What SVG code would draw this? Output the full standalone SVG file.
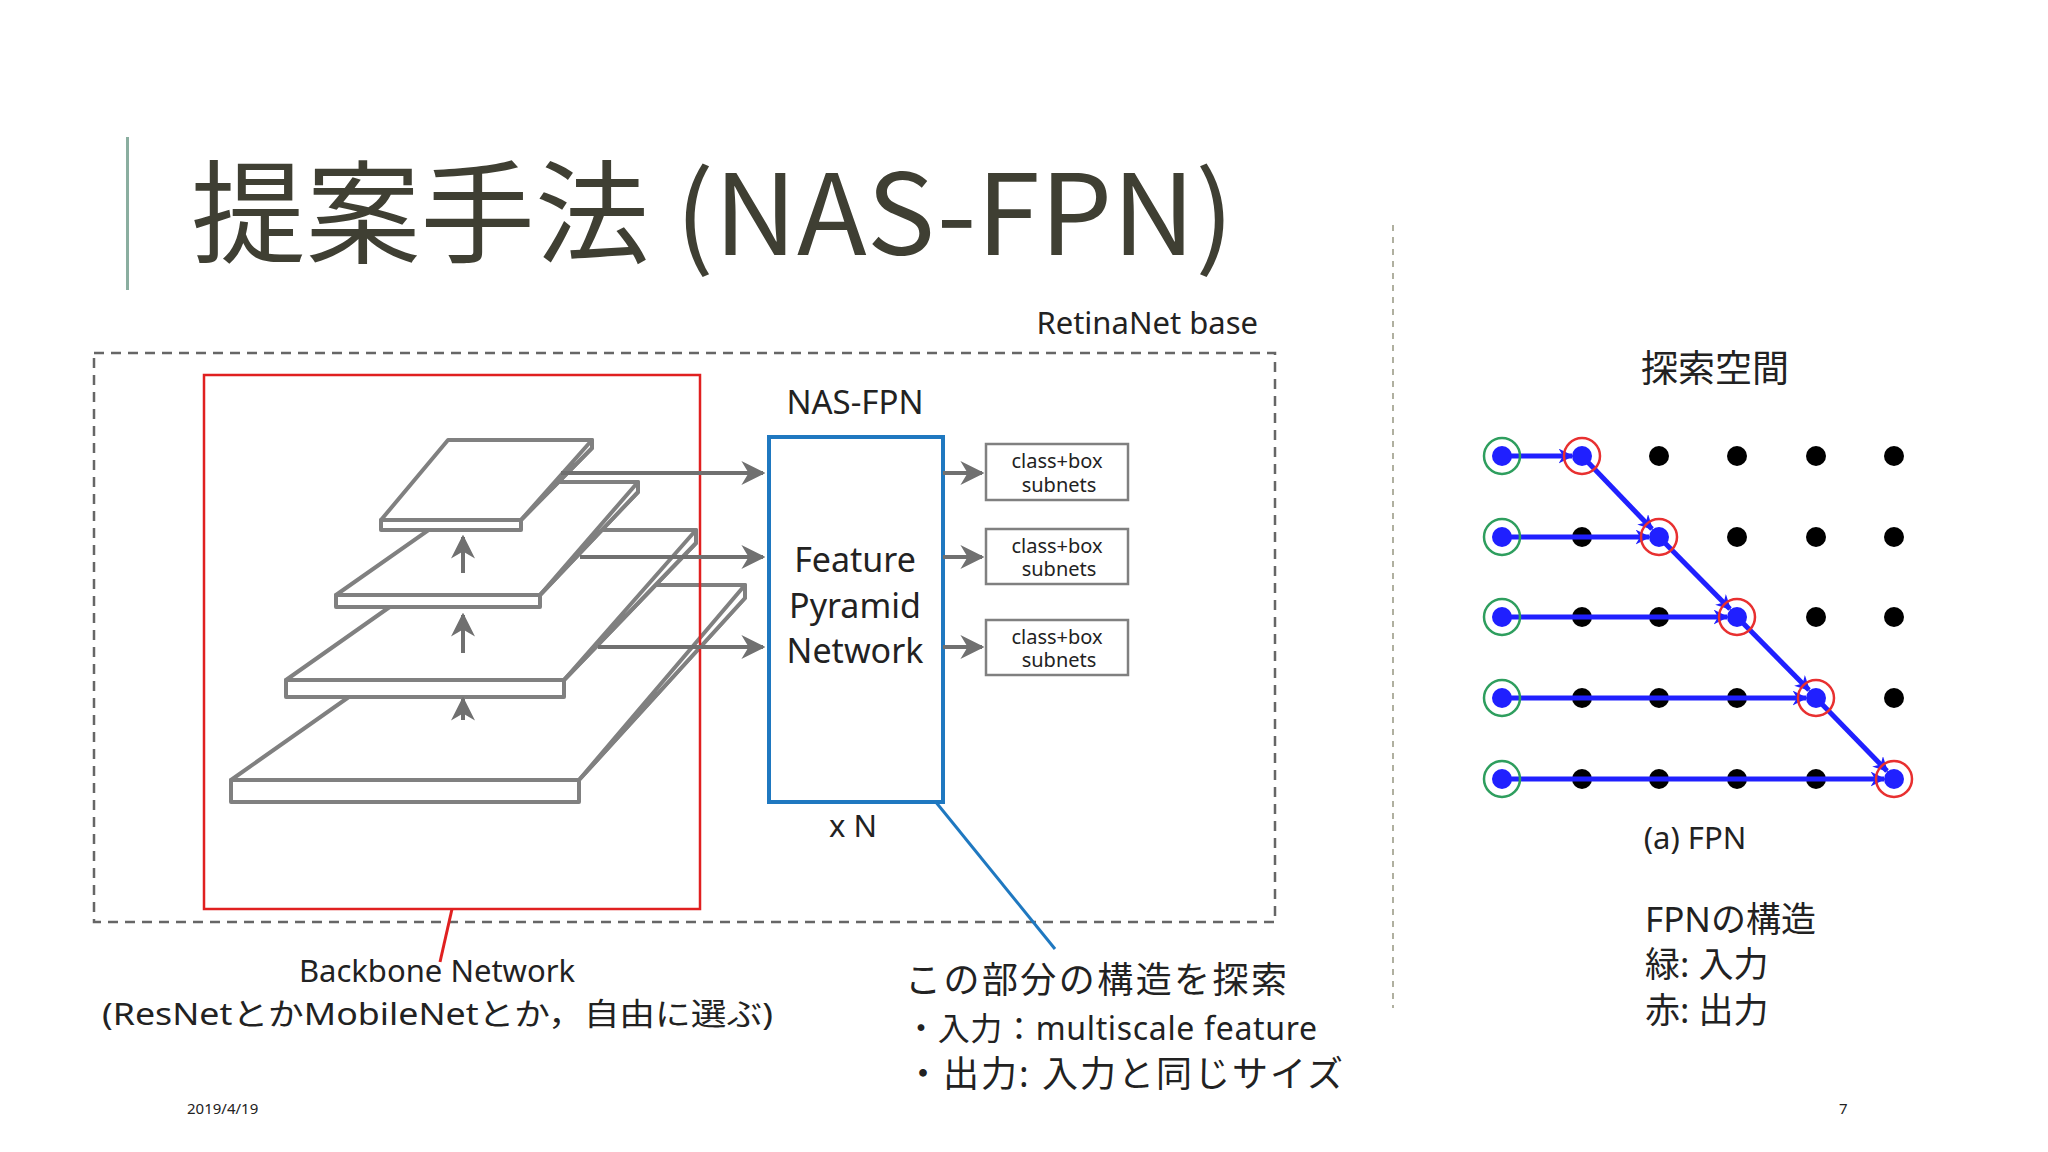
<svg xmlns="http://www.w3.org/2000/svg" width="2048" height="1152" viewBox="0 0 2048 1152">
<defs>
<style>
.t{font-family:"Noto Sans","Noto Sans CJK JP",sans-serif;fill:#222}
.plate{fill:#fff;stroke:#808080;stroke-width:4;stroke-linejoin:round}
.ga{stroke:#707070;stroke-width:4;fill:none}
.bl{stroke:#2020ff;stroke-width:5;fill:none}
.bk{fill:#000}
.bd{fill:#2020ff}
.gc{fill:none;stroke:#2e9e5e;stroke-width:2.5}
.rc{fill:none;stroke:#e83030;stroke-width:2.5}
</style>
<marker id="ag" viewBox="0 0 10 10" refX="9" refY="5" markerWidth="6" markerHeight="6" orient="auto"><path d="M0,0L10,5L0,10L3,5z" fill="#707070"/></marker>
<marker id="ab" viewBox="0 0 10 10" refX="9" refY="5" markerWidth="3" markerHeight="3" orient="auto"><path d="M0,0L10,5L0,10L3,5z" fill="#2020ff"/></marker>
</defs>
<rect width="2048" height="1152" fill="#fff"/>
<g id="title">
<rect x="126" y="137" width="3" height="153" fill="#8aaea0"/>
<text x="191" y="255" font-size="112" textLength="1043" lengthAdjust="spacingAndGlyphs" style="font-family:'Noto Sans CJK JP',sans-serif;fill:#3f3f33">提案手法 (NAS-FPN)</text>
</g>
<line x1="1393" y1="225" x2="1393" y2="1008" stroke="#b0b0a0" stroke-width="2" stroke-dasharray="6,6"/>
<g id="retinanet">
<text class="t" x="1258" y="334" font-size="31" text-anchor="end">RetinaNet base</text>
<rect x="94" y="353" width="1181" height="569" fill="none" stroke="#666" stroke-width="2.5" stroke-dasharray="10,7"/>
</g>
<g id="backbone">
<polygon class="plate" points="508,585 745,585 745,598 579,780 231,780"/>
<path class="plate" d="M231,780H579V802H231Z M579,780L745,598V585L579,780Z"/>
<polygon class="plate" points="499,530 696,530 696,543 564,680 286,680"/>
<path class="plate" d="M286,680H564V697H286Z M564,680L696,543V530Z"/>
<polygon class="plate" points="497,482 638,482 638,492 540,595 336,595"/>
<path class="plate" d="M336,595H540V607H336Z M540,595L638,492V482Z"/>
<polygon class="plate" points="448,440 592,440 592,448 521,520 381,520"/>
<path class="plate" d="M381,520H521V530H381Z M521,520L592,448V440Z"/>
<line class="ga" x1="463" y1="573" x2="463" y2="537" marker-end="url(#ag)"/>
<line class="ga" x1="463" y1="653" x2="463" y2="615" marker-end="url(#ag)"/>
<line class="ga" x1="463" y1="720" x2="463" y2="699" marker-end="url(#ag)"/>
<rect x="204" y="375" width="496" height="534" fill="none" stroke="#e02020" stroke-width="2.5"/>
</g>
<g id="fpn">
<text class="t" x="855" y="414" font-size="33" text-anchor="middle">NAS-FPN</text>
<rect x="769" y="437" width="174" height="365" fill="none" stroke="#1f78c0" stroke-width="4"/>
<text class="t" x="855" y="572" font-size="34" text-anchor="middle">Feature</text>
<text class="t" x="855" y="618" font-size="34" text-anchor="middle">Pyramid</text>
<text class="t" x="855" y="663" font-size="34" text-anchor="middle">Network</text>
<text class="t" x="853" y="837" font-size="31" text-anchor="middle">x N</text>
</g>
<g id="subnets">
<rect x="986" y="444" width="142" height="56" fill="#fff" stroke="#808080" stroke-width="2.5"/>
<rect x="986" y="529" width="142" height="55" fill="#fff" stroke="#808080" stroke-width="2.5"/>
<rect x="986" y="620" width="142" height="55" fill="#fff" stroke="#808080" stroke-width="2.5"/>
<g class="t" font-size="20" text-anchor="middle">
<text x="1057" y="468">class+box</text><text x="1059" y="492">subnets</text>
<text x="1057" y="553">class+box</text><text x="1059" y="576">subnets</text>
<text x="1057" y="644">class+box</text><text x="1059" y="667">subnets</text>
</g>
</g>
<g id="connectors">
<line class="ga" x1="561" y1="473" x2="763" y2="473" marker-end="url(#ag)"/>
<line class="ga" x1="580" y1="557" x2="763" y2="557" marker-end="url(#ag)"/>
<line class="ga" x1="598" y1="647" x2="763" y2="647" marker-end="url(#ag)"/>
<line class="ga" x1="943" y1="473" x2="982" y2="473" marker-end="url(#ag)"/>
<line class="ga" x1="943" y1="557" x2="982" y2="557" marker-end="url(#ag)"/>
<line class="ga" x1="943" y1="647" x2="982" y2="647" marker-end="url(#ag)"/>
<line x1="935" y1="801" x2="1055" y2="949" stroke="#1f78c0" stroke-width="3"/>
<line x1="452" y1="909" x2="440" y2="962" stroke="#e02020" stroke-width="3"/>
</g>
<g id="labels" class="t">
<text x="437" y="982" font-size="31" text-anchor="middle">Backbone Network</text>
<text x="102" y="1025" font-size="31" textLength="671" lengthAdjust="spacingAndGlyphs">(ResNetとかMobileNetとか，自由に選ぶ)</text>
<text x="905" y="993" font-size="36" textLength="382">この部分の構造を探索</text>
<text x="905" y="1040" font-size="32" textLength="412">・入力：multiscale feature</text>
<text x="905" y="1087" font-size="36" textLength="438">・出力: 入力と同じサイズ</text>
<text x="187" y="1114" font-size="15">2019/4/19</text>
<text x="1839" y="1114" font-size="15">7</text>
</g>
<g id="search">
<text class="t" x="1715" y="382" font-size="37" text-anchor="middle">探索空間</text>
<g class="bk">
<circle cx="1659" cy="456" r="10"/><circle cx="1737" cy="456" r="10"/><circle cx="1816" cy="456" r="10"/><circle cx="1894" cy="456" r="10"/>
<circle cx="1582" cy="537" r="10"/><circle cx="1737" cy="537" r="10"/><circle cx="1816" cy="537" r="10"/><circle cx="1894" cy="537" r="10"/>
<circle cx="1582" cy="617" r="10"/><circle cx="1659" cy="617" r="10"/><circle cx="1816" cy="617" r="10"/><circle cx="1894" cy="617" r="10"/>
<circle cx="1582" cy="698" r="10"/><circle cx="1659" cy="698" r="10"/><circle cx="1737" cy="698" r="10"/><circle cx="1894" cy="698" r="10"/>
<circle cx="1582" cy="779" r="10"/><circle cx="1659" cy="779" r="10"/><circle cx="1737" cy="779" r="10"/><circle cx="1816" cy="779" r="10"/>
</g>
<g>
<line class="bl" x1="1502" y1="456" x2="1572" y2="456" marker-end="url(#ab)"/>
<line class="bl" x1="1502" y1="537" x2="1649" y2="537" marker-end="url(#ab)"/>
<line class="bl" x1="1502" y1="617" x2="1727" y2="617" marker-end="url(#ab)"/>
<line class="bl" x1="1502" y1="698" x2="1806" y2="698" marker-end="url(#ab)"/>
<line class="bl" x1="1502" y1="779" x2="1884" y2="779" marker-end="url(#ab)"/>
<line class="bl" x1="1582" y1="456" x2="1652" y2="529" marker-end="url(#ab)"/>
<line class="bl" x1="1659" y1="537" x2="1730" y2="609" marker-end="url(#ab)"/>
<line class="bl" x1="1737" y1="617" x2="1809" y2="690" marker-end="url(#ab)"/>
<line class="bl" x1="1816" y1="698" x2="1887" y2="771" marker-end="url(#ab)"/>
</g>
<g class="bd">
<circle cx="1502" cy="456" r="10"/><circle cx="1502" cy="537" r="10"/><circle cx="1502" cy="617" r="10"/><circle cx="1502" cy="698" r="10"/><circle cx="1502" cy="779" r="10"/>
<circle cx="1582" cy="456" r="10"/><circle cx="1659" cy="537" r="10"/><circle cx="1737" cy="617" r="10"/><circle cx="1816" cy="698" r="10"/><circle cx="1894" cy="779" r="10"/>
</g>
<g>
<circle class="gc" cx="1502" cy="456" r="18"/><circle class="gc" cx="1502" cy="537" r="18"/><circle class="gc" cx="1502" cy="617" r="18"/><circle class="gc" cx="1502" cy="698" r="18"/><circle class="gc" cx="1502" cy="779" r="18"/>
<circle class="rc" cx="1582" cy="456" r="18"/><circle class="rc" cx="1659" cy="537" r="18"/><circle class="rc" cx="1737" cy="617" r="18"/><circle class="rc" cx="1816" cy="698" r="18"/><circle class="rc" cx="1894" cy="779" r="18"/>
</g>
<text class="t" x="1695" y="849" font-size="31" text-anchor="middle">(a) FPN</text>
<text class="t" x="1645" y="932" font-size="35">FPNの構造</text>
<text class="t" x="1645" y="977" font-size="35">緑: 入力</text>
<text class="t" x="1645" y="1023" font-size="35">赤: 出力</text>
</g>
</svg>
